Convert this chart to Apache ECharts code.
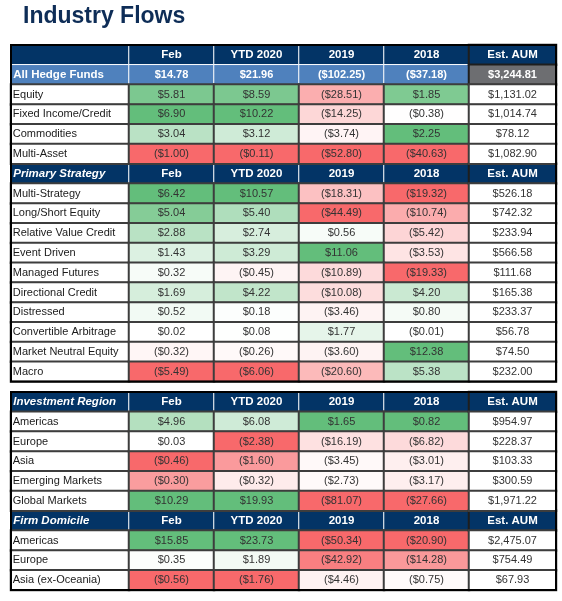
<!DOCTYPE html>
<html><head><meta charset="utf-8">
<script src="https://cdn.jsdelivr.net/npm/echarts@6/dist/echarts.min.js"></script>
<style>html,body{margin:0;padding:0;background:#fff}#c{width:562px;height:601px}</style>
</head><body><div id="c"></div>
<script>
// ---------------- data ----------------
const chartTitle = 'Industry Flows';
const columns = ['Feb', 'YTD 2020', '2019', '2018'];
const aumHeader = 'Est. AUM';

const allFundsLabel = 'All Hedge Funds';
const allFundsFlows = [14.78, 21.96, -102.25, -37.18];
const allFundsAum = 3244.81;

const sectorNames = ['Equity', 'Fixed Income/Credit', 'Commodities', 'Multi-Asset'];
const sectorFlows = [
  [5.81, 8.59, -28.51, 1.85],
  [6.90, 10.22, -14.25, -0.38],
  [3.04, 3.12, -3.74, 2.25],
  [-1.00, -0.11, -52.80, -40.63]
];
const sectorAum = [1131.02, 1014.74, 78.12, 1082.90];

const strategyTitle = 'Primary Strategy';
const strategyNames = ['Multi-Strategy', 'Long/Short Equity', 'Relative Value Credit', 'Event Driven',
  'Managed Futures', 'Directional Credit', 'Distressed', 'Convertible Arbitrage', 'Market Neutral Equity', 'Macro'];
const strategyFlows = [
  [6.42, 10.57, -18.31, -19.32],
  [5.04, 5.40, -44.49, -10.74],
  [2.88, 2.74, 0.56, -5.42],
  [1.43, 3.29, 11.06, -3.53],
  [0.32, -0.45, -10.89, -19.33],
  [1.69, 4.22, -10.08, 4.20],
  [0.52, 0.18, -3.46, 0.80],
  [0.02, 0.08, 1.77, -0.01],
  [-0.32, -0.26, -3.60, 12.38],
  [-5.49, -6.06, -20.60, 5.38]
];
const strategyAum = [526.18, 742.32, 233.94, 566.58, 111.68, 165.38, 233.37, 56.78, 74.50, 232.00];

const regionTitle = 'Investment Region';
const regionNames = ['Americas', 'Europe', 'Asia', 'Emerging Markets', 'Global Markets'];
const regionFlows = [
  [4.96, 6.08, 1.65, 0.82],
  [0.03, -2.38, -16.19, -6.82],
  [-0.46, -1.60, -3.45, -3.01],
  [-0.30, -0.32, -2.73, -3.17],
  [10.29, 19.93, -81.07, -27.66]
];
const regionAum = [954.97, 228.37, 103.33, 300.59, 1971.22];

const domicileTitle = 'Firm Domicile';
const domicileNames = ['Americas', 'Europe', 'Asia (ex-Oceania)'];
const domicileFlows = [
  [15.85, 23.73, -50.34, -20.90],
  [0.35, 1.89, -42.92, -14.28],
  [-0.56, -1.76, -4.46, -0.75]
];
const domicileAum = [2475.07, 754.49, 67.93];

// ---------------- styling ----------------
const FONT = '"Liberation Sans", Arial, sans-serif';
const NAVY = '#033466';
const BLUE = '#4F81BD';
const GREY = '#6D6E71';
const BORDER = '#3d3d3d';

function money(v) {
  const s = Math.abs(v).toFixed(2).replace(/\B(?=(\d{3})+(?!\d))/g, ',');
  return v < 0 ? '($' + s + ')' : '$' + s;
}

function bodyRows(names, flows, aum) {
  // scale per column within the group: min -> red, 0 -> white, max -> green
  const mins = columns.map((_, c) => Math.min(...flows.map(r => r[c])));
  const maxs = columns.map((_, c) => Math.max(...flows.map(r => r[c])));
  return names.map((n, i) => ({
    kind: 'body', label: n, flows: flows[i], aum: aum[i],
    t: flows[i].map((v, c) => v >= 0 ? (maxs[c] > 0 ? v / maxs[c] : 0) : (mins[c] < 0 ? -v / mins[c] : 0))
  }));
}

const blocks = [
  [
    { kind: 'head', title: '' },
    { kind: 'total', label: allFundsLabel, flows: allFundsFlows, aum: allFundsAum },
    ...bodyRows(sectorNames, sectorFlows, sectorAum),
    { kind: 'head', title: strategyTitle },
    ...bodyRows(strategyNames, strategyFlows, strategyAum)
  ],
  [
    { kind: 'head', title: regionTitle },
    ...bodyRows(regionNames, regionFlows, regionAum),
    { kind: 'head', title: domicileTitle },
    ...bodyRows(domicileNames, domicileFlows, domicileAum)
  ]
];

// layout (px)
const colX = [[11, 129], [129, 469], [469, 556]];
const blockY = [[45, 381.6], [392, 590]];

const grids = [], xAxes = [], yAxes = [], series = [], flowIdx = [];
const white = '#ffffff';

function order(items) { // header cells first so body borders draw over them
  return items.filter(d => d._h).concat(items.filter(d => !d._h));
}

blocks.forEach((rows, b) => {
  const [y0, y1] = blockY[b];
  colX.forEach(([x0, x1], k) => {
    const gi = grids.length;
    grids.push({ left: x0, top: y0, width: x1 - x0, height: y1 - y0, containLabel: false });
    xAxes.push({ type: 'category', gridIndex: gi, data: k === 1 ? columns : [''], show: false });
    yAxes.push({ type: 'category', gridIndex: gi, data: rows.map((r, i) => String(i)), inverse: true, show: false });
  });
  const g = b * 3;
  const base = {
    type: 'heatmap', emphasis: { disabled: true }, silent: true,
    label: { show: true, fontFamily: FONT, fontSize: 11, color: '#333', formatter: p => p.name }
  };
  // label column
  const lab = rows.map((r, i) => {
    if (r.kind === 'head') return { _h: 1, name: r.title, value: [0, i, 0],
      itemStyle: { color: NAVY, borderColor: white, borderWidth: 1 },
      label: { color: white, fontWeight: 'bold', fontStyle: 'italic', fontSize: 11.5 } };
    if (r.kind === 'total') return { _h: 1, name: r.label, value: [0, i, 0],
      itemStyle: { color: BLUE, borderColor: white, borderWidth: 1 },
      label: { color: white, fontWeight: 'bold', fontSize: 11.5 } };
    return { name: r.label, value: [0, i, 0], itemStyle: { color: white, borderColor: BORDER, borderWidth: 2 },
      label: { color: '#1a1a1a' } };
  });
  series.push(Object.assign({}, base, { xAxisIndex: g, yAxisIndex: g, z: 2,
    label: Object.assign({}, base.label, { position: 'insideLeft', distance: 3 }),
    data: order(lab).map(({ _h, ...d }) => d) }));
  // header / total cells in data grid
  const hd = [];
  rows.forEach((r, i) => {
    if (r.kind === 'head') columns.forEach((c, ci) => hd.push({ name: c, value: [ci, i, 0],
      itemStyle: { color: NAVY, borderColor: white, borderWidth: 1 },
      label: { color: white, fontWeight: 'bold', fontSize: 11.5 } }));
    if (r.kind === 'total') r.flows.forEach((v, ci) => hd.push({ name: money(v), value: [ci, i, v],
      itemStyle: { color: BLUE, borderColor: white, borderWidth: 1 },
      label: { color: white, fontWeight: 'bold' } }));
  });
  series.push(Object.assign({}, base, { xAxisIndex: g + 1, yAxisIndex: g + 1, z: 2, data: hd }));
  // flow cells
  const fl = [];
  rows.forEach((r, i) => {
    if (r.kind === 'body') r.flows.forEach((v, ci) => fl.push({ name: money(v), value: [ci, i, v, r.t[ci]],
      itemStyle: { borderColor: BORDER, borderWidth: 2 } }));
  });
  flowIdx.push(series.length);
  series.push(Object.assign({}, base, { xAxisIndex: g + 1, yAxisIndex: g + 1, z: 3, data: fl }));
  // AUM column
  const am = rows.map((r, i) => {
    if (r.kind === 'head') return { _h: 1, name: aumHeader, value: [0, i, 0],
      itemStyle: { color: NAVY, borderColor: '#1e1e1e', borderWidth: 2 },
      label: { color: white, fontWeight: 'bold', fontSize: 11.5 } };
    if (r.kind === 'total') return { _h: 1, name: money(r.aum), value: [0, i, r.aum],
      itemStyle: { color: GREY, borderColor: '#1e1e1e', borderWidth: 2 },
      label: { color: white, fontWeight: 'bold' } };
    return { name: money(r.aum), value: [0, i, r.aum], itemStyle: { color: white, borderColor: BORDER, borderWidth: 2 } };
  });
  series.push(Object.assign({}, base, { xAxisIndex: g + 2, yAxisIndex: g + 2, z: 4,
    data: order(am).map(({ _h, ...d }) => d) }));
});

// outer frames around each block
blockY.forEach(([y0, y1]) => {
  const gi = grids.length;
  grids.push({ left: colX[0][0], top: y0, width: colX[2][1] - colX[0][0], height: y1 - y0,
    show: true, z: 10, backgroundColor: 'transparent', borderColor: '#000', borderWidth: 2 });
  xAxes.push({ type: 'value', gridIndex: gi, show: false });
  yAxes.push({ type: 'value', gridIndex: gi, show: false });
});

const chart = echarts.init(document.getElementById('c'), null, { renderer: 'canvas' });
chart.setOption({
  animation: false,
  backgroundColor: '#fff',
  title: { text: chartTitle, left: 23, top: 5, padding: 0,
    textStyle: { fontFamily: FONT, fontSize: 23, fontWeight: 'bold', color: '#0E2D57' } },
  grid: grids, xAxis: xAxes, yAxis: yAxes,
  visualMap: { type: 'continuous', show: false, dimension: 3, min: -1, max: 1, seriesIndex: flowIdx,
    inRange: { color: ['#F8696B', '#FFFFFF', '#63BE7B'] } },
  series
});
</script></body></html>
